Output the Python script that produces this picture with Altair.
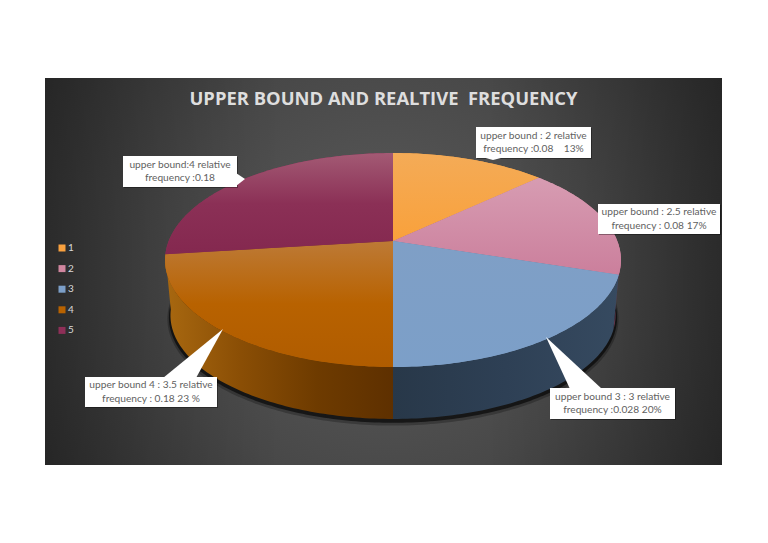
import math
import altair as alt

# ---- data ----
SLICES = ["1", "2", "3", "4", "5"]
SHARES = [13, 17, 20, 23, 27]
LEGEND_COLORS = ["#f9a13f", "#d0869f", "#7c9fc8", "#b86200", "#8e2f58"]
TITLE = "UPPER BOUND AND REALTIVE \u00a0FREQUENCY"
LABELS = [
    "upper bound : 2 relative\nfrequency :0.08 \u00a0 \u00a013%",
    "upper bound : 2.5 relative\nfrequency : 0.08 17%",
    "upper bound 3 : 3 relative\nfrequency :0.028 20%",
    "upper bound 4 : 3.5 relative\nfrequency : 0.18 23 %",
    "upper bound:4 relative\nfrequency :0.18",
]

# ---- layout / style (page pixels, plot origin at OX, OY) ----
OX, OY = 45, 78
W, H = 677, 387
CX = 393
TOP = dict(a=224.3, b=103.6, k=0.1776, y0=241)
BOT = dict(a=219.0, b=100.3, k=0.1776, y0=297)

TOP_FILLS = [
    ["#f4ab57", "#f9a13b"],
    ["#d79cb2", "#cb7f9c"],
    ["#7f9fc6", "#7c9fc8"],
    ["#bd7a36", "#b86200", "#b05c00"],
    ["#a35a74", "#8b3056", "#84284f"],
]

BOXES = [  # x0, y0, x1, y1, tail polygon (page px)
    (476, 127, 591, 158, [(482, 157), (493, 160), (505, 157)]),
    (598, 204, 720, 234, []),
    (550, 388, 675, 419, [(546, 337), (570, 389), (602, 389)]),
    (85, 377, 217, 407, [(223, 329), (163, 378), (196, 378)]),
    (123, 156, 237, 187, [(245, 179), (236, 173), (236, 186)]),
]


def proj(theta, g, dx=0.0, dy=0.0, grow=0.0):
    t = math.radians(theta)
    u, v = math.sin(t), math.cos(t)
    w = 1 + g["k"] * v
    x = CX - OX + (g["a"] + grow) * u / w + dx
    y = g["y0"] - OY - (g["b"] + grow) * v / w + dy
    return [round(x, 2), round(y, 2)]


def arc(t0, t1, g, **kw):
    n = max(2, int(abs(t1 - t0)) + 1)
    return [proj(t0 + (t1 - t0) * i / (n - 1), g, **kw) for i in range(n)]


def feature(points, **props):
    ring = [list(p) for p in points]
    ring.append(ring[0])
    return {"type": "Feature", "properties": props,
            "geometry": {"type": "Polygon", "coordinates": [ring]}}


def page_pts(points):
    return [(x - OX, y - OY) for x, y in points]


def vgrad(colors):
    n = len(colors) - 1
    return {"gradient": "linear", "x1": 0, "y1": 0, "x2": 0, "y2": 1,
            "stops": [{"offset": i / n, "color": c} for i, c in enumerate(colors)]}


def hgrad(colors):
    n = len(colors) - 1
    return {"gradient": "linear", "x1": 0, "y1": 0, "x2": 1, "y2": 0,
            "stops": [{"offset": i / n, "color": c} for i, c in enumerate(colors)]}


def shape(features, **mark):
    return alt.Chart(alt.Data(values=features)).mark_geoshape(**mark).encode().project(
        type="identity", scale=1, translate=[0, 0])


# cumulative angles from the shares
edges = [0.0]
for s in SHARES:
    edges.append(edges[-1] + s / sum(SHARES) * 360)

layers = []

# background with radial shading, darkened further towards the left and right edges
bg = feature([(0, 0), (W, 0), (W, H), (0, H)])
layers.append(shape([bg], strokeWidth=0, fill={
    "gradient": "radial", "x1": 0.5, "y1": 0.5, "r1": 0, "x2": 0.5, "y2": 0.5, "r2": 0.72,
    "stops": [{"offset": 0, "color": "#5c5c5c"}, {"offset": 0.45, "color": "#484848"},
              {"offset": 1, "color": "#262626"}]}))
layers.append(shape([bg], strokeWidth=0, fill={
    "gradient": "linear", "x1": 0, "y1": 0, "x2": 1, "y2": 0,
    "stops": [{"offset": 0, "color": "rgba(0,0,0,0.25)"}, {"offset": 0.15, "color": "rgba(0,0,0,0.12)"},
              {"offset": 0.35, "color": "rgba(0,0,0,0)"}, {"offset": 0.65, "color": "rgba(0,0,0,0)"},
              {"offset": 0.85, "color": "rgba(0,0,0,0.12)"}, {"offset": 1, "color": "rgba(0,0,0,0.25)"}]}))

# soft shadow under the pie
for grow, dy, op in [(3, 3, 0.25), (1.5, 2, 0.6)]:
    layers.append(shape([feature(arc(0, 359, BOT, grow=grow, dy=dy))],
                        fill="#000000", opacity=op, strokeWidth=0))


def wall(t0, t1):
    return feature(arc(t0, t1, TOP) + arc(t1, t0, BOT))


layers.append(shape([wall(90, edges[2])], fill="#6a3850", strokeWidth=0))
layers.append(shape([wall(edges[2], edges[3])], fill=hgrad(["#283849", "#2e4055", "#364a60"]), strokeWidth=0))
layers.append(shape([wall(edges[3], edges[4])], fill=hgrad(["#a86810", "#8a4e05", "#6e3b00", "#5e3000"]), strokeWidth=0))

# top faces: a coloured base that carries the legend ...
tops = [feature([proj(0, dict(TOP, a=0, b=0))] + arc(edges[i], edges[i + 1], TOP), slice=SLICES[i])
        for i in range(len(SLICES))]
layers.append(
    alt.Chart(alt.Data(values=tops)).mark_geoshape(strokeWidth=0).encode(
        color=alt.Color("properties.slice:N",
                        scale=alt.Scale(domain=SLICES, range=LEGEND_COLORS),
                        legend=alt.Legend(
                            title=None, orient="none", legendX=12, legendY=165,
                            symbolType="square", symbolSize=49, symbolStrokeWidth=0,
                            labelColor="#d9d9d9", labelFont="Lato", labelFontSize=10,
                            labelOffset=1, rowPadding=10.6)),
    ).project(type="identity", scale=1, translate=[0, 0])
)
# ... and the shaded faces above it
for f, fills in zip(tops, TOP_FILLS):
    layers.append(shape([f], fill=vgrad(fills), strokeWidth=0))

# callouts
px, py = [], []
for (x0, y0, x1, y1, tail) in BOXES:
    box = page_pts([(x0, y0), (x1, y0), (x1, y1), (x0, y1)])
    shadow = [(x + 1, y + 1) for x, y in box]
    layers.append(shape([feature(shadow)], fill="#000000", opacity=0.35, strokeWidth=0))
    layers.append(shape([feature(box)], fill="#ffffff", strokeWidth=0))
    if tail:
        layers.append(shape([feature(page_pts(tail))], fill="#ffffff", strokeWidth=0))
    px.append((x0 + x1) / 2 - OX)
    py.append((y0 + y1) / 2 - OY - 7)

texts = [{"label": t, "px": x, "py": y} for t, x, y in zip(LABELS, px, py)]
layers.append(
    alt.Chart(alt.Data(values=texts)).mark_text(
        font="Lato", fontSize=10.2, color="#5f5f5f", align="center", baseline="middle",
        lineBreak="\n", lineHeight=13.5,
    ).encode(x=alt.X("px:Q", scale=None), y=alt.Y("py:Q", scale=None), text="label:N")
)

chart = alt.layer(*layers).properties(
    width=W, height=H,
    autosize="none",
    padding={"left": OX - 8, "top": OY - 8, "right": 0, "bottom": 0},
    title=alt.TitleParams(TITLE, font="Open Sans", fontSize=18.4, fontWeight="bold",
                          color="#dedede", anchor="middle", offset=-30, zindex=1),
).configure_view(stroke=None)

chart.save("out.html", embed_options={"renderer": "svg", "actions": False})
